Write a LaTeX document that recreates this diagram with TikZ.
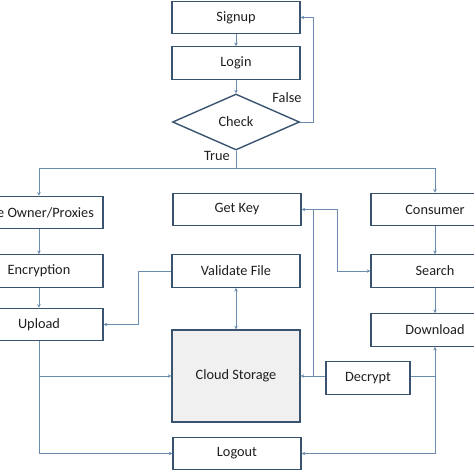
\documentclass[tikz,border=0pt]{standalone}
\usepackage{fontspec}
\setmainfont{Carlito}
\usetikzlibrary{shapes.geometric,arrows.meta}
\definecolor{boxline}{HTML}{3A5470}
\definecolor{conline}{HTML}{6B8CAE}
\definecolor{cloudfill}{HTML}{F1F0F0}
\definecolor{txt}{HTML}{1E1E1E}
\tikzset{
  stepbox/.style={draw=boxline, line width=1.4pt, minimum width=128pt, minimum height=32.5pt, inner sep=0pt, font=\fontsize{14.3}{16}\selectfont, text=txt},
  decision/.style={diamond, draw=boxline, line width=1.4pt, minimum width=127pt, minimum height=56pt, aspect=2.27, inner sep=0pt, font=\fontsize{14.3}{16}\selectfont, text=txt},
  conn/.style={draw=conline, line width=1pt},
  arr/.style={conn, -{Stealth[length=3.5pt,width=3.5pt]}},
  biarr/.style={conn, {Stealth[length=3.5pt,width=3.5pt]}-{Stealth[length=3.5pt,width=3.5pt]}},
  lbl/.style={font=\fontsize{14.3}{16}\selectfont, text=txt}
}
\begin{document}
\begin{tikzpicture}[x=1pt,y=-1pt]
\useasboundingbox (0,0) rectangle (474,474);
\node[stepbox] (signup) at (236,17.5) {Signup};
\node[stepbox] (login) at (236,63) {Login};
\node[decision] (check) at (236,122) {Check};
\node[stepbox] (owner) at (39,212.5) {File Owner/Proxies};
\node[stepbox] (getkey) at (237,209.5) {Get Key};
\node[stepbox] (consumer) at (435,209.5) {Consumer};
\node[stepbox] (encryption) at (39,271) {Encryption};
\node[stepbox] (validate) at (236,271) {Validate File};
\node[stepbox] (search) at (435,271) {Search};
\node[stepbox] (upload) at (39,324.5) {Upload};
\node[stepbox, fill=cloudfill, minimum height=92pt] (cloud) at (236,376) {Cloud Storage};
\node[stepbox, minimum width=84pt] (decrypt) at (368,378) {Decrypt};
\node[stepbox] (download) at (435,330) {Download};
\node[stepbox] (logout) at (237,453.5) {Logout};
\coordinate (jt) at (236,168.5);
\coordinate (jfalse) at (313,122);
\coordinate (jkey) at (337,209.5);
\coordinate (jdec) at (313,376);
\coordinate (jval) at (138,271);
\coordinate (jup) at (39,376);
\coordinate (jdown) at (435,453.5);
\node[lbl] (false) at (287,98) {False};
\node[lbl] (true) at (217,156) {True};
% top flow
\draw[arr] (signup) -- (login);
\draw[arr] (login) -- (check);
\draw[arr] (check.east) -- (jfalse) |- (signup.east);
\draw[conn] (check.south) -- (jt);
\draw[arr] (jt) -| (owner.north);
\draw[arr] (jt) -| (consumer.north);
% left column
\draw[arr] (owner) -- (encryption);
\draw[arr] (encryption) -- (upload);
\draw[arr] (validate.west) -- (jval) |- (upload.east);
\draw[arr] (upload.south) |- (logout.west);
\draw[arr] (jup) -- (cloud.west |- jup);
% middle
\draw[biarr] (cloud.north) -- (validate.south);
\draw[biarr] (getkey.east) -- (jkey) |- (search.west);
\draw[conn] (jdec) -- (jdec |- getkey.east);
\draw[arr] (decrypt.west |- jdec) -- (cloud.east |- jdec);
% right column
\draw[arr] (consumer) -- (search);
\draw[arr] (search) -- (download);
\draw[conn] (decrypt.east |- jdec) -- (download.south |- jdec);
\draw[biarr] (download.south) |- (logout.east);
\end{tikzpicture}
\end{document}
